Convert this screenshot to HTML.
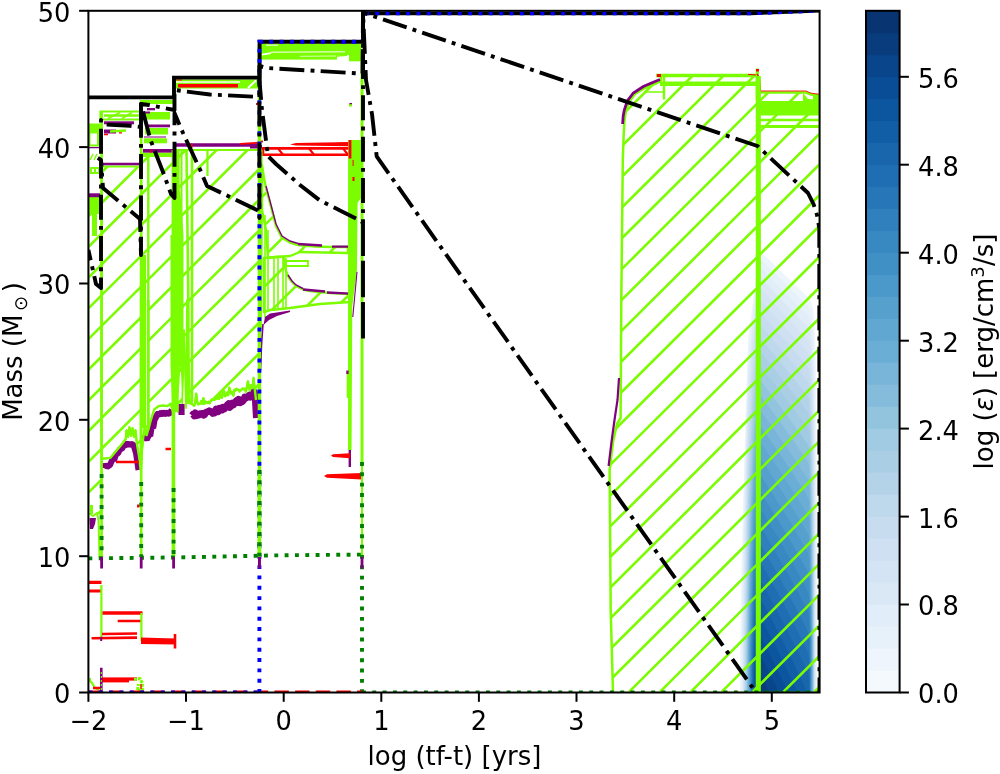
<!DOCTYPE html><html><head><meta charset="utf-8"><title>Kippenhahn diagram</title><style>html,body{margin:0;padding:0;background:#fff}body{width:1000px;height:774px;overflow:hidden}</style></head><body><svg width="1000" height="774" viewBox="0 0 1000 774" style="display:block"><defs><path id="hatch" d="M-698.1 691.6L1.9 -4.9M-667.2 691.6L32.8 -4.9M-636.4 691.6L63.6 -4.9M-605.5 691.6L94.5 -4.9M-574.6 691.6L125.4 -4.9M-543.8 691.6L156.2 -4.9M-512.9 691.6L187.1 -4.9M-482.0 691.6L218.0 -4.9M-451.2 691.6L248.8 -4.9M-420.3 691.6L279.7 -4.9M-389.4 691.6L310.6 -4.9M-358.5 691.6L341.5 -4.9M-327.7 691.6L372.3 -4.9M-296.8 691.6L403.2 -4.9M-265.9 691.6L434.1 -4.9M-235.1 691.6L464.9 -4.9M-204.2 691.6L495.8 -4.9M-173.3 691.6L526.7 -4.9M-142.5 691.6L557.5 -4.9M-111.6 691.6L588.4 -4.9M-80.7 691.6L619.3 -4.9M-49.8 691.6L650.2 -4.9M-19.0 691.6L681.0 -4.9M11.9 691.6L711.9 -4.9M42.8 691.6L742.8 -4.9M73.6 691.6L773.6 -4.9M104.5 691.6L804.5 -4.9M135.4 691.6L835.4 -4.9M166.2 691.6L866.2 -4.9M197.1 691.6L897.1 -4.9M228.0 691.6L928.0 -4.9M258.9 691.6L958.9 -4.9M289.7 691.6L989.7 -4.9M320.6 691.6L1020.6 -4.9M351.5 691.6L1051.5 -4.9M382.3 691.6L1082.3 -4.9M413.2 691.6L1113.2 -4.9M444.1 691.6L1144.1 -4.9M474.9 691.6L1174.9 -4.9M505.8 691.6L1205.8 -4.9M536.7 691.6L1236.7 -4.9M567.6 691.6L1267.6 -4.9M598.4 691.6L1298.4 -4.9M629.3 691.6L1329.3 -4.9M660.2 691.6L1360.2 -4.9M691.0 691.6L1391.0 -4.9M721.9 691.6L1421.9 -4.9M752.8 691.6L1452.8 -4.9M783.6 691.6L1483.7 -4.9M814.5 691.6L1514.5 -4.9M845.4 691.6L1545.4 -4.9" stroke="#7cfc00" stroke-width="2.6" fill="none"/><clipPath id="axclip"><rect x="88.4" y="10.8" width="731.2" height="681.7"/></clipPath><clipPath id="c1"><path d="M757.0 693.0 L613.0 693.0 L610.7 610.0 L609.6 470.5 L613.0 442.0 L617.0 424.0 L620.6 418.0 L621.3 300.0 L622.8 160.0 L623.6 137.0 L624.5 120.0 L626.0 110.0 L629.0 102.0 L635.0 94.0 L645.0 88.0 L657.0 83.0 L661.0 81.0 L661.0 75.5 L757.0 75.5 L757.0 693.0Z"/></clipPath><clipPath id="c2"><path d="M759.0 693.0 L759.0 92.5 L806.0 92.5 L811.0 94.5 L820.0 95.5 L820.0 693.0Z"/></clipPath><clipPath id="c3"><path d="M88.4 197.0 L101.5 197.0 L101.5 514.0 L97.0 513.0 L93.0 516.0 L88.4 513.0Z"/></clipPath><clipPath id="c4"><path d="M101.5 166.5 L141.0 166.5 L140.5 470.0 L139.0 456.5 L137.0 445.0 L135.5 430.0 L134.0 437.0 L132.5 428.0 L131.0 436.0 L129.5 427.0 L128.0 437.0 L126.5 430.0 L125.7 439.0 L122.0 444.0 L117.0 450.0 L110.4 458.0 L101.5 458.7Z"/></clipPath><clipPath id="c5"><path d="M141.0 153.5 L174.0 153.5 L174.0 412.0 L172.0 408.0 L170.7 403.8 L167.4 406.0 L163.0 405.5 L158.7 406.0 L154.3 409.3 L151.0 420.0 L148.8 428.0 L146.5 436.0 L145.0 425.0 L143.5 436.0 L142.0 450.0 L141.0 470.0Z"/></clipPath><clipPath id="c6"><path d="M174.5 150.0 L259.0 150.0 L259.0 400.0 L256.0 400.0 L253.5 378.0 L252.5 388.0 L252.0 385.5 L251.0 385.2 L249.9 390.4 L248.9 387.1 L247.9 381.5 L246.8 387.3 L245.8 391.7 L244.8 388.8 L243.7 389.4 L242.7 388.5 L241.7 389.4 L240.6 390.5 L239.6 391.5 L238.6 389.7 L237.5 389.8 L236.5 388.8 L235.5 390.6 L234.4 389.6 L233.4 395.6 L232.4 391.9 L231.3 393.5 L230.3 390.7 L229.3 387.8 L228.2 395.2 L227.2 392.6 L226.2 395.1 L225.1 396.2 L224.1 391.0 L223.1 392.0 L222.0 397.7 L221.0 397.6 L219.9 392.8 L218.9 398.8 L217.9 395.9 L216.8 398.8 L215.8 397.0 L214.8 399.7 L213.7 399.6 L212.7 400.0 L211.7 399.5 L210.6 401.5 L209.6 403.2 L208.6 401.7 L207.5 403.1 L206.5 402.0 L205.5 401.6 L204.4 403.9 L203.4 398.1 L202.4 403.8 L201.3 401.0 L200.3 403.8 L199.3 403.7 L198.2 404.4 L197.2 401.6 L196.2 393.7 L195.1 403.5 L194.1 405.8 L193.1 404.7 L192.0 404.0 L191.0 400.5 L190.0 404.0 L187.0 300.0 L186.0 408.0 L184.0 330.0 L182.0 410.0 L180.0 405.0 L178.0 412.0 L176.0 405.0 L174.5 412.0Z"/></clipPath><clipPath id="c7"><path d="M262.0 165.0 L264.0 178.0 L266.0 188.0 L270.0 203.0 L276.0 226.0 L282.0 238.0 L290.0 242.5 L298.0 245.0 L315.0 246.5 L330.0 247.0 L348.0 247.0 L348.0 253.0 L300.0 252.0 L290.0 256.0 L276.0 257.0 L268.0 258.0 L266.0 230.0 L262.0 210.0Z"/></clipPath><clipPath id="c8"><path d="M264.0 258.0 L276.0 257.0 L284.0 257.0 L284.0 264.0 L286.0 271.0 L288.0 276.0 L292.0 282.0 L296.0 286.0 L303.0 289.5 L310.0 291.0 L330.0 293.0 L350.0 294.0 L350.0 302.0 L320.0 304.0 L290.0 308.0 L270.0 310.0 L264.0 312.0Z"/></clipPath></defs><rect width="1000" height="774" fill="#fff"/><g clip-path="url(#axclip)">
<path d="M740.0 693.5 L740.0 664.4 L741.0 590.8 L742.0 543.0 L743.0 503.8 L744.0 468.5 L745.0 435.1 L746.0 402.7 L747.0 371.1 L748.0 339.9 L749.0 331.5 L750.0 323.5 L751.0 315.7 L752.0 308.1 L753.0 300.7 L754.0 293.4 L755.0 286.1 L756.0 279.0 L757.0 271.9 L758.0 265.0 L759.0 258.1 L760.0 251.2 L761.0 252.1 L762.0 253.0 L763.0 254.0 L764.0 255.0 L765.0 255.9 L766.0 256.9 L767.0 257.8 L768.0 258.8 L769.0 259.8 L770.0 260.7 L771.0 261.7 L772.0 262.7 L773.0 263.6 L774.0 264.6 L775.0 265.6 L776.0 266.5 L777.0 267.5 L778.0 268.5 L779.0 269.4 L780.0 270.4 L781.0 271.4 L782.0 272.3 L783.0 273.3 L784.0 274.2 L785.0 275.2 L786.0 276.2 L787.0 277.1 L788.0 278.1 L789.0 279.1 L790.0 280.0 L791.0 281.0 L792.0 282.0 L793.0 282.9 L794.0 283.9 L795.0 284.9 L796.0 285.8 L797.0 286.8 L798.0 287.8 L799.0 288.7 L800.0 289.7 L801.0 290.7 L802.0 291.6 L803.0 292.6 L804.0 293.6 L805.0 294.5 L806.0 295.5 L807.0 296.5 L808.0 297.4 L809.0 298.5 L810.0 299.9 L811.0 301.8 L812.0 304.5 L813.0 308.6 L814.0 315.6 L815.0 329.8 L816.0 368.0 L817.0 539.4 L817.0 693.5Z" fill="#eef5fc"/>
<path d="M741.0 693.5 L741.0 666.5 L742.0 592.1 L743.0 539.3 L744.0 496.0 L745.0 457.5 L746.0 421.7 L747.0 387.6 L748.0 354.7 L749.0 344.2 L750.0 334.6 L751.0 325.6 L752.0 317.2 L753.0 309.1 L754.0 301.3 L755.0 293.8 L756.0 286.4 L757.0 279.3 L758.0 272.4 L759.0 265.6 L760.0 258.8 L761.0 259.7 L762.0 260.7 L763.0 261.6 L764.0 262.6 L765.0 263.6 L766.0 264.6 L767.0 265.6 L768.0 266.5 L769.0 267.5 L770.0 268.5 L771.0 269.5 L772.0 270.5 L773.0 271.5 L774.0 272.4 L775.0 273.4 L776.0 274.4 L777.0 275.4 L778.0 276.4 L779.0 277.4 L780.0 278.4 L781.0 279.4 L782.0 280.3 L783.0 281.3 L784.0 282.3 L785.0 283.3 L786.0 284.3 L787.0 285.3 L788.0 286.3 L789.0 287.3 L790.0 288.2 L791.0 289.2 L792.0 290.2 L793.0 291.2 L794.0 292.2 L795.0 293.2 L796.0 294.2 L797.0 295.2 L798.0 296.2 L799.0 297.2 L800.0 298.2 L801.0 299.2 L802.0 300.1 L803.0 301.1 L804.0 302.1 L805.0 303.1 L806.0 304.1 L807.0 305.1 L808.0 306.1 L809.0 307.3 L810.0 309.4 L811.0 312.8 L812.0 318.1 L813.0 326.9 L814.0 342.9 L815.0 376.8 L816.0 470.4 L816.0 693.5Z" fill="#e7f1fa"/>
<path d="M742.0 693.5 L742.0 649.9 L743.0 581.1 L744.0 528.4 L745.0 483.9 L746.0 444.1 L747.0 407.1 L748.0 372.1 L749.0 359.1 L750.0 347.7 L751.0 337.4 L752.0 327.9 L753.0 319.0 L754.0 310.7 L755.0 302.8 L756.0 295.2 L757.0 288.0 L758.0 281.1 L759.0 274.5 L760.0 267.8 L761.0 268.7 L762.0 269.6 L763.0 270.6 L764.0 271.6 L765.0 272.6 L766.0 273.6 L767.0 274.7 L768.0 275.7 L769.0 276.7 L770.0 277.7 L771.0 278.7 L772.0 279.7 L773.0 280.7 L774.0 281.7 L775.0 282.7 L776.0 283.7 L777.0 284.7 L778.0 285.8 L779.0 286.8 L780.0 287.8 L781.0 288.8 L782.0 289.8 L783.0 290.8 L784.0 291.8 L785.0 292.8 L786.0 293.9 L787.0 294.9 L788.0 295.9 L789.0 296.9 L790.0 297.9 L791.0 298.9 L792.0 300.0 L793.0 301.0 L794.0 302.0 L795.0 303.0 L796.0 304.0 L797.0 305.1 L798.0 306.1 L799.0 307.1 L800.0 308.1 L801.0 309.2 L802.0 310.2 L803.0 311.2 L804.0 312.2 L805.0 313.3 L806.0 314.3 L807.0 315.3 L808.0 316.3 L809.0 317.6 L810.0 320.5 L811.0 325.7 L812.0 334.1 L813.0 348.4 L814.0 375.0 L815.0 432.2 L816.0 591.2 L816.0 693.5Z" fill="#e1edf8"/>
<path d="M743.0 693.5 L743.0 627.6 L744.0 564.5 L745.0 513.3 L746.0 469.0 L747.0 428.8 L748.0 391.4 L749.0 375.7 L750.0 362.2 L751.0 350.4 L752.0 339.8 L753.0 330.1 L754.0 321.1 L755.0 312.8 L756.0 304.9 L757.0 297.6 L758.0 290.9 L759.0 284.4 L760.0 277.9 L761.0 278.7 L762.0 279.6 L763.0 280.7 L764.0 281.7 L765.0 282.7 L766.0 283.7 L767.0 284.8 L768.0 285.8 L769.0 286.8 L770.0 287.9 L771.0 288.9 L772.0 289.9 L773.0 291.0 L774.0 292.0 L775.0 293.1 L776.0 294.1 L777.0 295.1 L778.0 296.2 L779.0 297.2 L780.0 298.3 L781.0 299.3 L782.0 300.3 L783.0 301.4 L784.0 302.4 L785.0 303.5 L786.0 304.5 L787.0 305.6 L788.0 306.6 L789.0 307.7 L790.0 308.7 L791.0 309.8 L792.0 310.8 L793.0 311.8 L794.0 312.9 L795.0 314.0 L796.0 315.0 L797.0 316.1 L798.0 317.1 L799.0 318.2 L800.0 319.2 L801.0 320.3 L802.0 321.3 L803.0 322.4 L804.0 323.5 L805.0 324.5 L806.0 325.6 L807.0 326.7 L808.0 327.7 L809.0 329.1 L810.0 333.0 L811.0 340.0 L812.0 351.9 L813.0 372.4 L814.0 410.7 L815.0 493.8 L815.0 693.5Z" fill="#dae8f6"/>
<path d="M743.0 693.5 L743.0 678.0 L744.0 603.6 L745.0 545.2 L746.0 495.9 L747.0 452.3 L748.0 412.4 L749.0 393.6 L750.0 378.0 L751.0 364.5 L752.0 352.7 L753.0 342.1 L754.0 332.4 L755.0 323.6 L756.0 315.5 L757.0 308.1 L758.0 301.4 L759.0 295.1 L760.0 288.7 L761.0 289.6 L762.0 290.4 L763.0 291.5 L764.0 292.6 L765.0 293.6 L766.0 294.7 L767.0 295.7 L768.0 296.8 L769.0 297.9 L770.0 298.9 L771.0 300.0 L772.0 301.1 L773.0 302.1 L774.0 303.2 L775.0 304.3 L776.0 305.3 L777.0 306.4 L778.0 307.5 L779.0 308.5 L780.0 309.6 L781.0 310.7 L782.0 311.7 L783.0 312.8 L784.0 313.9 L785.0 315.0 L786.0 316.1 L787.0 317.1 L788.0 318.2 L789.0 319.3 L790.0 320.4 L791.0 321.5 L792.0 322.5 L793.0 323.6 L794.0 324.7 L795.0 325.8 L796.0 326.9 L797.0 328.0 L798.0 329.1 L799.0 330.2 L800.0 331.3 L801.0 332.3 L802.0 333.4 L803.0 334.5 L804.0 335.6 L805.0 336.7 L806.0 337.8 L807.0 338.9 L808.0 340.0 L809.0 341.6 L810.0 346.4 L811.0 355.6 L812.0 371.2 L813.0 398.4 L814.0 449.4 L815.0 560.6 L815.0 693.5Z" fill="#d4e4f4"/>
<path d="M744.0 693.5 L744.0 645.2 L745.0 579.1 L746.0 524.6 L747.0 477.3 L748.0 434.7 L749.0 412.8 L750.0 394.8 L751.0 379.6 L752.0 366.4 L753.0 354.8 L754.0 344.5 L755.0 335.2 L756.0 326.8 L757.0 319.2 L758.0 312.6 L759.0 306.5 L760.0 300.3 L761.0 301.1 L762.0 302.0 L763.0 303.1 L764.0 304.2 L765.0 305.2 L766.0 306.3 L767.0 307.4 L768.0 308.5 L769.0 309.6 L770.0 310.7 L771.0 311.8 L772.0 312.9 L773.0 314.0 L774.0 315.1 L775.0 316.2 L776.0 317.3 L777.0 318.4 L778.0 319.5 L779.0 320.6 L780.0 321.7 L781.0 322.8 L782.0 323.9 L783.0 325.0 L784.0 326.1 L785.0 327.2 L786.0 328.3 L787.0 329.5 L788.0 330.6 L789.0 331.7 L790.0 332.8 L791.0 333.9 L792.0 335.0 L793.0 336.2 L794.0 337.3 L795.0 338.4 L796.0 339.5 L797.0 340.7 L798.0 341.8 L799.0 342.9 L800.0 344.1 L801.0 345.2 L802.0 346.3 L803.0 347.5 L804.0 348.6 L805.0 349.7 L806.0 350.9 L807.0 352.0 L808.0 353.2 L809.0 354.9 L810.0 360.8 L811.0 372.2 L812.0 391.8 L813.0 426.0 L814.0 490.7 L815.0 631.7 L815.0 693.5Z" fill="#cee0f2"/>
<path d="M744.0 693.5 L744.0 689.1 L745.0 614.9 L746.0 554.9 L747.0 503.7 L748.0 458.2 L749.0 433.0 L750.0 412.5 L751.0 395.5 L752.0 380.9 L753.0 368.3 L754.0 357.2 L755.0 347.3 L756.0 338.6 L757.0 331.0 L758.0 324.4 L759.0 318.5 L760.0 312.5 L761.0 313.3 L762.0 314.1 L763.0 315.3 L764.0 316.4 L765.0 317.5 L766.0 318.6 L767.0 319.7 L768.0 320.9 L769.0 322.0 L770.0 323.1 L771.0 324.2 L772.0 325.4 L773.0 326.5 L774.0 327.6 L775.0 328.8 L776.0 329.9 L777.0 331.0 L778.0 332.2 L779.0 333.3 L780.0 334.4 L781.0 335.6 L782.0 336.7 L783.0 337.9 L784.0 339.0 L785.0 340.2 L786.0 341.3 L787.0 342.5 L788.0 343.6 L789.0 344.8 L790.0 345.9 L791.0 347.1 L792.0 348.2 L793.0 349.4 L794.0 350.6 L795.0 351.7 L796.0 352.9 L797.0 354.1 L798.0 355.2 L799.0 356.4 L800.0 357.6 L801.0 358.7 L802.0 359.9 L803.0 361.1 L804.0 362.3 L805.0 363.5 L806.0 364.6 L807.0 365.8 L808.0 367.0 L809.0 368.9 L810.0 375.9 L811.0 389.7 L812.0 413.5 L813.0 455.2 L814.0 534.2 L814.0 693.5Z" fill="#c8dcf0"/>
<path d="M745.0 693.5 L745.0 652.3 L746.0 586.5 L747.0 531.3 L748.0 482.9 L749.0 454.1 L750.0 431.1 L751.0 412.1 L752.0 396.1 L753.0 382.4 L754.0 370.5 L755.0 360.1 L756.0 351.0 L757.0 343.3 L758.0 336.8 L759.0 331.1 L760.0 325.3 L761.0 326.1 L762.0 326.9 L763.0 328.0 L764.0 329.2 L765.0 330.3 L766.0 331.5 L767.0 332.6 L768.0 333.8 L769.0 334.9 L770.0 336.1 L771.0 337.3 L772.0 338.4 L773.0 339.6 L774.0 340.8 L775.0 341.9 L776.0 343.1 L777.0 344.3 L778.0 345.4 L779.0 346.6 L780.0 347.8 L781.0 349.0 L782.0 350.1 L783.0 351.3 L784.0 352.5 L785.0 353.7 L786.0 354.9 L787.0 356.1 L788.0 357.3 L789.0 358.4 L790.0 359.6 L791.0 360.8 L792.0 362.0 L793.0 363.2 L794.0 364.4 L795.0 365.6 L796.0 366.8 L797.0 368.1 L798.0 369.3 L799.0 370.5 L800.0 371.7 L801.0 372.9 L802.0 374.1 L803.0 375.4 L804.0 376.6 L805.0 377.8 L806.0 379.0 L807.0 380.3 L808.0 381.5 L809.0 383.6 L810.0 391.8 L811.0 408.0 L812.0 436.1 L813.0 485.7 L814.0 579.7 L814.0 693.5Z" fill="#bed8ec"/>
<path d="M745.0 693.5 L745.0 691.2 L746.0 619.5 L747.0 560.0 L748.0 508.5 L749.0 476.1 L750.0 450.4 L751.0 429.4 L752.0 411.9 L753.0 397.0 L754.0 384.3 L755.0 373.3 L756.0 363.9 L757.0 356.1 L758.0 349.7 L759.0 344.1 L760.0 338.6 L761.0 339.4 L762.0 340.1 L763.0 341.3 L764.0 342.5 L765.0 343.7 L766.0 344.8 L767.0 346.0 L768.0 347.2 L769.0 348.4 L770.0 349.6 L771.0 350.8 L772.0 352.0 L773.0 353.2 L774.0 354.4 L775.0 355.6 L776.0 356.8 L777.0 358.0 L778.0 359.2 L779.0 360.4 L780.0 361.7 L781.0 362.9 L782.0 364.1 L783.0 365.3 L784.0 366.5 L785.0 367.8 L786.0 369.0 L787.0 370.2 L788.0 371.4 L789.0 372.7 L790.0 373.9 L791.0 375.1 L792.0 376.4 L793.0 377.6 L794.0 378.9 L795.0 380.1 L796.0 381.4 L797.0 382.6 L798.0 383.9 L799.0 385.1 L800.0 386.4 L801.0 387.7 L802.0 388.9 L803.0 390.2 L804.0 391.5 L805.0 392.7 L806.0 394.0 L807.0 395.3 L808.0 396.6 L809.0 398.9 L810.0 408.2 L811.0 427.0 L812.0 459.7 L813.0 517.4 L814.0 627.0 L814.0 693.5Z" fill="#b4d3e9"/>
<path d="M746.0 693.5 L746.0 653.6 L747.0 589.7 L748.0 535.1 L749.0 498.8 L750.0 470.3 L751.0 447.3 L752.0 428.2 L753.0 412.2 L754.0 398.6 L755.0 387.0 L756.0 377.3 L757.0 369.3 L758.0 363.0 L759.0 357.7 L760.0 352.4 L761.0 353.1 L762.0 353.8 L763.0 355.0 L764.0 356.3 L765.0 357.5 L766.0 358.7 L767.0 359.9 L768.0 361.1 L769.0 362.4 L770.0 363.6 L771.0 364.8 L772.0 366.1 L773.0 367.3 L774.0 368.5 L775.0 369.8 L776.0 371.0 L777.0 372.3 L778.0 373.5 L779.0 374.8 L780.0 376.0 L781.0 377.3 L782.0 378.5 L783.0 379.8 L784.0 381.1 L785.0 382.3 L786.0 383.6 L787.0 384.9 L788.0 386.1 L789.0 387.4 L790.0 388.7 L791.0 390.0 L792.0 391.3 L793.0 392.5 L794.0 393.8 L795.0 395.1 L796.0 396.4 L797.0 397.7 L798.0 399.0 L799.0 400.3 L800.0 401.6 L801.0 402.9 L802.0 404.2 L803.0 405.6 L804.0 406.9 L805.0 408.2 L806.0 409.5 L807.0 410.8 L808.0 412.2 L809.0 414.7 L810.0 425.3 L811.0 446.7 L812.0 484.2 L813.0 550.3 L814.0 676.0 L814.0 693.5Z" fill="#aacfe5"/>
<path d="M746.0 693.5 L746.0 688.8 L747.0 620.4 L748.0 562.4 L749.0 522.3 L750.0 491.0 L751.0 465.7 L752.0 445.1 L753.0 427.8 L754.0 413.4 L755.0 401.2 L756.0 391.1 L757.0 383.0 L758.0 376.8 L759.0 371.7 L760.0 366.6 L761.0 367.3 L762.0 368.0 L763.0 369.2 L764.0 370.5 L765.0 371.7 L766.0 373.0 L767.0 374.3 L768.0 375.5 L769.0 376.8 L770.0 378.0 L771.0 379.3 L772.0 380.6 L773.0 381.9 L774.0 383.1 L775.0 384.4 L776.0 385.7 L777.0 387.0 L778.0 388.3 L779.0 389.6 L780.0 390.9 L781.0 392.2 L782.0 393.5 L783.0 394.8 L784.0 396.1 L785.0 397.4 L786.0 398.7 L787.0 400.0 L788.0 401.3 L789.0 402.6 L790.0 403.9 L791.0 405.3 L792.0 406.6 L793.0 407.9 L794.0 409.3 L795.0 410.6 L796.0 411.9 L797.0 413.3 L798.0 414.6 L799.0 416.0 L800.0 417.3 L801.0 418.7 L802.0 420.1 L803.0 421.4 L804.0 422.8 L805.0 424.2 L806.0 425.5 L807.0 426.9 L808.0 428.3 L809.0 431.0 L810.0 442.9 L811.0 467.0 L812.0 509.4 L813.0 584.2 L813.0 693.5Z" fill="#a0cbe2"/>
<path d="M747.0 693.5 L747.0 652.0 L748.0 590.6 L749.0 546.5 L750.0 512.2 L751.0 484.8 L752.0 462.4 L753.0 443.9 L754.0 428.6 L755.0 415.8 L756.0 405.3 L757.0 397.0 L758.0 391.0 L759.0 386.1 L760.0 381.2 L761.0 381.9 L762.0 382.5 L763.0 383.8 L764.0 385.1 L765.0 386.4 L766.0 387.7 L767.0 389.0 L768.0 390.3 L769.0 391.6 L770.0 392.9 L771.0 394.2 L772.0 395.5 L773.0 396.8 L774.0 398.2 L775.0 399.5 L776.0 400.8 L777.0 402.1 L778.0 403.5 L779.0 404.8 L780.0 406.1 L781.0 407.5 L782.0 408.8 L783.0 410.2 L784.0 411.5 L785.0 412.9 L786.0 414.2 L787.0 415.6 L788.0 416.9 L789.0 418.3 L790.0 419.6 L791.0 421.0 L792.0 422.4 L793.0 423.8 L794.0 425.1 L795.0 426.5 L796.0 427.9 L797.0 429.3 L798.0 430.7 L799.0 432.1 L800.0 433.5 L801.0 434.9 L802.0 436.3 L803.0 437.7 L804.0 439.2 L805.0 440.6 L806.0 442.0 L807.0 443.4 L808.0 444.9 L809.0 447.8 L810.0 461.0 L811.0 488.0 L812.0 535.4 L813.0 619.1 L813.0 693.5Z" fill="#92c4de"/>
<path d="M747.0 693.5 L747.0 684.4 L748.0 619.6 L749.0 571.4 L750.0 534.0 L751.0 504.3 L752.0 480.2 L753.0 460.5 L754.0 444.2 L755.0 430.8 L756.0 419.9 L757.0 411.5 L758.0 405.5 L759.0 400.9 L760.0 396.2 L761.0 396.9 L762.0 397.5 L763.0 398.8 L764.0 400.1 L765.0 401.5 L766.0 402.8 L767.0 404.1 L768.0 405.5 L769.0 406.8 L770.0 408.2 L771.0 409.5 L772.0 410.9 L773.0 412.2 L774.0 413.6 L775.0 415.0 L776.0 416.3 L777.0 417.7 L778.0 419.1 L779.0 420.4 L780.0 421.8 L781.0 423.2 L782.0 424.6 L783.0 426.0 L784.0 427.3 L785.0 428.7 L786.0 430.1 L787.0 431.5 L788.0 432.9 L789.0 434.4 L790.0 435.8 L791.0 437.2 L792.0 438.6 L793.0 440.0 L794.0 441.5 L795.0 442.9 L796.0 444.3 L797.0 445.8 L798.0 447.2 L799.0 448.7 L800.0 450.1 L801.0 451.6 L802.0 453.0 L803.0 454.5 L804.0 456.0 L805.0 457.4 L806.0 458.9 L807.0 460.4 L808.0 461.9 L809.0 465.0 L810.0 479.6 L811.0 509.5 L812.0 562.0 L813.0 655.0 L813.0 693.5Z" fill="#85bcdc"/>
<path d="M748.0 693.5 L748.0 649.3 L749.0 596.8 L750.0 556.3 L751.0 524.3 L752.0 498.5 L753.0 477.4 L754.0 460.2 L755.0 446.1 L756.0 434.9 L757.0 426.3 L758.0 420.4 L759.0 416.0 L760.0 411.6 L761.0 412.2 L762.0 412.8 L763.0 414.2 L764.0 415.5 L765.0 416.9 L766.0 418.3 L767.0 419.7 L768.0 421.0 L769.0 422.4 L770.0 423.8 L771.0 425.2 L772.0 426.6 L773.0 428.0 L774.0 429.4 L775.0 430.8 L776.0 432.2 L777.0 433.6 L778.0 435.0 L779.0 436.4 L780.0 437.9 L781.0 439.3 L782.0 440.7 L783.0 442.2 L784.0 443.6 L785.0 445.0 L786.0 446.5 L787.0 447.9 L788.0 449.4 L789.0 450.8 L790.0 452.3 L791.0 453.8 L792.0 455.2 L793.0 456.7 L794.0 458.2 L795.0 459.7 L796.0 461.1 L797.0 462.6 L798.0 464.1 L799.0 465.6 L800.0 467.1 L801.0 468.6 L802.0 470.1 L803.0 471.7 L804.0 473.2 L805.0 474.7 L806.0 476.2 L807.0 477.8 L808.0 479.3 L809.0 482.7 L810.0 498.7 L811.0 531.5 L812.0 589.3 L813.0 691.7 L813.0 693.5Z" fill="#79b5d9"/>
<path d="M748.0 693.5 L748.0 679.6 L749.0 622.8 L750.0 579.1 L751.0 544.7 L752.0 517.1 L753.0 494.8 L754.0 476.5 L755.0 461.8 L756.0 450.1 L757.0 441.4 L758.0 435.7 L759.0 431.5 L760.0 427.3 L761.0 427.9 L762.0 428.5 L763.0 429.9 L764.0 431.3 L765.0 432.7 L766.0 434.1 L767.0 435.5 L768.0 437.0 L769.0 438.4 L770.0 439.8 L771.0 441.2 L772.0 442.7 L773.0 444.1 L774.0 445.6 L775.0 447.0 L776.0 448.5 L777.0 449.9 L778.0 451.4 L779.0 452.8 L780.0 454.3 L781.0 455.8 L782.0 457.2 L783.0 458.7 L784.0 460.2 L785.0 461.7 L786.0 463.2 L787.0 464.7 L788.0 466.2 L789.0 467.7 L790.0 469.2 L791.0 470.7 L792.0 472.2 L793.0 473.7 L794.0 475.3 L795.0 476.8 L796.0 478.3 L797.0 479.9 L798.0 481.4 L799.0 483.0 L800.0 484.5 L801.0 486.1 L802.0 487.7 L803.0 489.2 L804.0 490.8 L805.0 492.4 L806.0 494.0 L807.0 495.6 L808.0 497.2 L809.0 500.8 L810.0 518.2 L811.0 554.0 L812.0 617.2 L812.0 693.5Z" fill="#6aaed6"/>
<path d="M749.0 693.5 L749.0 649.4 L750.0 602.5 L751.0 565.6 L752.0 536.2 L753.0 512.5 L754.0 493.3 L755.0 477.8 L756.0 465.7 L757.0 456.9 L758.0 451.2 L759.0 447.3 L760.0 443.4 L761.0 444.0 L762.0 444.5 L763.0 445.9 L764.0 447.4 L765.0 448.8 L766.0 450.3 L767.0 451.7 L768.0 453.2 L769.0 454.7 L770.0 456.1 L771.0 457.6 L772.0 459.1 L773.0 460.6 L774.0 462.1 L775.0 463.6 L776.0 465.0 L777.0 466.5 L778.0 468.1 L779.0 469.6 L780.0 471.1 L781.0 472.6 L782.0 474.1 L783.0 475.6 L784.0 477.2 L785.0 478.7 L786.0 480.2 L787.0 481.8 L788.0 483.3 L789.0 484.9 L790.0 486.4 L791.0 488.0 L792.0 489.6 L793.0 491.1 L794.0 492.7 L795.0 494.3 L796.0 495.9 L797.0 497.5 L798.0 499.1 L799.0 500.7 L800.0 502.3 L801.0 503.9 L802.0 505.5 L803.0 507.2 L804.0 508.8 L805.0 510.4 L806.0 512.1 L807.0 513.7 L808.0 515.4 L809.0 519.2 L810.0 538.1 L811.0 577.0 L812.0 645.8 L812.0 693.5Z" fill="#60a7d2"/>
<path d="M749.0 693.5 L749.0 676.5 L750.0 626.2 L751.0 586.9 L752.0 555.7 L753.0 530.5 L754.0 510.3 L755.0 494.2 L756.0 481.7 L757.0 472.6 L758.0 467.1 L759.0 463.5 L760.0 459.8 L761.0 460.3 L762.0 460.8 L763.0 462.3 L764.0 463.8 L765.0 465.3 L766.0 466.8 L767.0 468.3 L768.0 469.8 L769.0 471.3 L770.0 472.8 L771.0 474.3 L772.0 475.8 L773.0 477.4 L774.0 478.9 L775.0 480.4 L776.0 482.0 L777.0 483.5 L778.0 485.1 L779.0 486.6 L780.0 488.2 L781.0 489.7 L782.0 491.3 L783.0 492.9 L784.0 494.5 L785.0 496.0 L786.0 497.6 L787.0 499.2 L788.0 500.8 L789.0 502.4 L790.0 504.0 L791.0 505.6 L792.0 507.3 L793.0 508.9 L794.0 510.5 L795.0 512.2 L796.0 513.8 L797.0 515.4 L798.0 517.1 L799.0 518.8 L800.0 520.4 L801.0 522.1 L802.0 523.8 L803.0 525.5 L804.0 527.1 L805.0 528.8 L806.0 530.5 L807.0 532.3 L808.0 534.0 L809.0 538.0 L810.0 558.4 L811.0 600.5 L812.0 674.9 L812.0 693.5Z" fill="#56a0ce"/>
<path d="M750.0 693.5 L750.0 650.5 L751.0 608.6 L752.0 575.5 L753.0 548.9 L754.0 527.7 L755.0 510.8 L756.0 497.9 L757.0 488.7 L758.0 483.3 L759.0 479.9 L760.0 476.5 L761.0 477.0 L762.0 477.4 L763.0 479.0 L764.0 480.5 L765.0 482.0 L766.0 483.6 L767.0 485.1 L768.0 486.7 L769.0 488.2 L770.0 489.8 L771.0 491.3 L772.0 492.9 L773.0 494.5 L774.0 496.1 L775.0 497.6 L776.0 499.2 L777.0 500.8 L778.0 502.4 L779.0 504.0 L780.0 505.6 L781.0 507.2 L782.0 508.8 L783.0 510.5 L784.0 512.1 L785.0 513.7 L786.0 515.4 L787.0 517.0 L788.0 518.7 L789.0 520.3 L790.0 522.0 L791.0 523.6 L792.0 525.3 L793.0 527.0 L794.0 528.7 L795.0 530.4 L796.0 532.0 L797.0 533.7 L798.0 535.5 L799.0 537.2 L800.0 538.9 L801.0 540.6 L802.0 542.4 L803.0 544.1 L804.0 545.8 L805.0 547.6 L806.0 549.4 L807.0 551.1 L808.0 552.9 L809.0 557.2 L810.0 579.1 L811.0 624.4 L811.0 693.5Z" fill="#4b98ca"/>
<path d="M750.0 693.5 L750.0 675.1 L751.0 630.7 L752.0 595.6 L753.0 567.7 L754.0 545.3 L755.0 527.8 L756.0 514.4 L757.0 505.0 L758.0 499.7 L759.0 496.6 L760.0 493.5 L761.0 493.9 L762.0 494.4 L763.0 495.9 L764.0 497.5 L765.0 499.1 L766.0 500.7 L767.0 502.3 L768.0 503.8 L769.0 505.4 L770.0 507.0 L771.0 508.7 L772.0 510.3 L773.0 511.9 L774.0 513.5 L775.0 515.1 L776.0 516.8 L777.0 518.4 L778.0 520.1 L779.0 521.7 L780.0 523.4 L781.0 525.0 L782.0 526.7 L783.0 528.4 L784.0 530.0 L785.0 531.7 L786.0 533.4 L787.0 535.1 L788.0 536.8 L789.0 538.5 L790.0 540.2 L791.0 541.9 L792.0 543.7 L793.0 545.4 L794.0 547.1 L795.0 548.9 L796.0 550.6 L797.0 552.4 L798.0 554.1 L799.0 555.9 L800.0 557.7 L801.0 559.5 L802.0 561.3 L803.0 563.1 L804.0 564.9 L805.0 566.7 L806.0 568.5 L807.0 570.3 L808.0 572.2 L809.0 576.7 L810.0 600.1 L811.0 648.7 L811.0 693.5Z" fill="#4090c5"/>
<path d="M751.0 693.5 L751.0 653.2 L752.0 616.1 L753.0 586.7 L754.0 563.3 L755.0 545.0 L756.0 531.2 L757.0 521.6 L758.0 516.5 L759.0 513.6 L760.0 510.8 L761.0 511.2 L762.0 511.6 L763.0 513.2 L764.0 514.8 L765.0 516.4 L766.0 518.0 L767.0 519.7 L768.0 521.3 L769.0 523.0 L770.0 524.6 L771.0 526.3 L772.0 527.9 L773.0 529.6 L774.0 531.3 L775.0 532.9 L776.0 534.6 L777.0 536.3 L778.0 538.0 L779.0 539.7 L780.0 541.4 L781.0 543.1 L782.0 544.8 L783.0 546.5 L784.0 548.3 L785.0 550.0 L786.0 551.7 L787.0 553.5 L788.0 555.2 L789.0 557.0 L790.0 558.8 L791.0 560.5 L792.0 562.3 L793.0 564.1 L794.0 565.9 L795.0 567.7 L796.0 569.5 L797.0 571.3 L798.0 573.1 L799.0 575.0 L800.0 576.8 L801.0 578.6 L802.0 580.5 L803.0 582.3 L804.0 584.2 L805.0 586.1 L806.0 588.0 L807.0 589.9 L808.0 591.8 L809.0 596.6 L810.0 621.6 L811.0 673.4 L811.0 693.5Z" fill="#3888c1"/>
<path d="M751.0 693.5 L751.0 676.0 L752.0 637.0 L753.0 606.0 L754.0 581.6 L755.0 562.5 L756.0 548.2 L757.0 538.5 L758.0 533.5 L759.0 530.9 L760.0 528.3 L761.0 528.7 L762.0 529.0 L763.0 530.7 L764.0 532.4 L765.0 534.0 L766.0 535.7 L767.0 537.4 L768.0 539.1 L769.0 540.8 L770.0 542.5 L771.0 544.2 L772.0 545.9 L773.0 547.6 L774.0 549.3 L775.0 551.0 L776.0 552.7 L777.0 554.5 L778.0 556.2 L779.0 558.0 L780.0 559.7 L781.0 561.5 L782.0 563.2 L783.0 565.0 L784.0 566.8 L785.0 568.6 L786.0 570.4 L787.0 572.2 L788.0 574.0 L789.0 575.8 L790.0 577.6 L791.0 579.4 L792.0 581.3 L793.0 583.1 L794.0 585.0 L795.0 586.8 L796.0 588.7 L797.0 590.6 L798.0 592.4 L799.0 594.3 L800.0 596.2 L801.0 598.1 L802.0 600.0 L803.0 601.9 L804.0 603.9 L805.0 605.8 L806.0 607.7 L807.0 609.7 L808.0 611.7 L809.0 616.7 L810.0 643.3 L810.0 693.5Z" fill="#3080bd"/>
<path d="M752.0 693.5 L752.0 658.1 L753.0 625.7 L754.0 600.1 L755.0 580.3 L756.0 565.5 L757.0 555.7 L758.0 550.8 L759.0 548.5 L760.0 546.2 L761.0 546.5 L762.0 546.8 L763.0 548.5 L764.0 550.2 L765.0 551.9 L766.0 553.6 L767.0 555.4 L768.0 557.1 L769.0 558.8 L770.0 560.6 L771.0 562.3 L772.0 564.1 L773.0 565.8 L774.0 567.6 L775.0 569.4 L776.0 571.1 L777.0 572.9 L778.0 574.7 L779.0 576.5 L780.0 578.3 L781.0 580.1 L782.0 582.0 L783.0 583.8 L784.0 585.6 L785.0 587.4 L786.0 589.3 L787.0 591.1 L788.0 593.0 L789.0 594.9 L790.0 596.7 L791.0 598.6 L792.0 600.5 L793.0 602.4 L794.0 604.3 L795.0 606.2 L796.0 608.2 L797.0 610.1 L798.0 612.0 L799.0 614.0 L800.0 615.9 L801.0 617.9 L802.0 619.9 L803.0 621.8 L804.0 623.8 L805.0 625.8 L806.0 627.8 L807.0 629.8 L808.0 631.9 L809.0 637.2 L810.0 665.4 L810.0 693.5Z" fill="#2777b8"/>
<path d="M752.0 693.5 L752.0 679.6 L753.0 645.6 L754.0 618.9 L755.0 598.3 L756.0 583.1 L757.0 573.1 L758.0 568.3 L759.0 566.3 L760.0 564.3 L761.0 564.5 L762.0 564.8 L763.0 566.5 L764.0 568.3 L765.0 570.1 L766.0 571.8 L767.0 573.6 L768.0 575.4 L769.0 577.2 L770.0 578.9 L771.0 580.7 L772.0 582.5 L773.0 584.3 L774.0 586.2 L775.0 588.0 L776.0 589.8 L777.0 591.6 L778.0 593.5 L779.0 595.3 L780.0 597.2 L781.0 599.1 L782.0 600.9 L783.0 602.8 L784.0 604.7 L785.0 606.6 L786.0 608.5 L787.0 610.4 L788.0 612.3 L789.0 614.2 L790.0 616.2 L791.0 618.1 L792.0 620.0 L793.0 622.0 L794.0 624.0 L795.0 625.9 L796.0 627.9 L797.0 629.9 L798.0 631.9 L799.0 633.9 L800.0 635.9 L801.0 637.9 L802.0 640.0 L803.0 642.0 L804.0 644.1 L805.0 646.1 L806.0 648.2 L807.0 650.3 L808.0 652.4 L809.0 657.9 L810.0 687.8 L810.0 693.5Z" fill="#1f6eb3"/>
<path d="M753.0 693.5 L753.0 665.8 L754.0 637.9 L755.0 616.6 L756.0 600.9 L757.0 590.7 L758.0 586.0 L759.0 584.3 L760.0 582.6 L761.0 582.8 L762.0 583.0 L763.0 584.8 L764.0 586.6 L765.0 588.4 L766.0 590.3 L767.0 592.1 L768.0 593.9 L769.0 595.7 L770.0 597.6 L771.0 599.4 L772.0 601.3 L773.0 603.1 L774.0 605.0 L775.0 606.9 L776.0 608.7 L777.0 610.6 L778.0 612.5 L779.0 614.4 L780.0 616.3 L781.0 618.2 L782.0 620.2 L783.0 622.1 L784.0 624.0 L785.0 626.0 L786.0 627.9 L787.0 629.9 L788.0 631.9 L789.0 633.8 L790.0 635.8 L791.0 637.8 L792.0 639.8 L793.0 641.8 L794.0 643.9 L795.0 645.9 L796.0 647.9 L797.0 650.0 L798.0 652.0 L799.0 654.1 L800.0 656.2 L801.0 658.3 L802.0 660.4 L803.0 662.5 L804.0 664.6 L805.0 666.7 L806.0 668.8 L807.0 671.0 L808.0 673.1 L809.0 679.0 L809.0 693.5Z" fill="#1966ad"/>
<path d="M753.0 693.5 L753.0 686.2 L754.0 657.2 L755.0 635.1 L756.0 618.9 L757.0 608.6 L758.0 604.0 L759.0 602.6 L760.0 601.2 L761.0 601.3 L762.0 601.5 L763.0 603.4 L764.0 605.2 L765.0 607.1 L766.0 608.9 L767.0 610.8 L768.0 612.7 L769.0 614.6 L770.0 616.4 L771.0 618.3 L772.0 620.2 L773.0 622.2 L774.0 624.1 L775.0 626.0 L776.0 627.9 L777.0 629.9 L778.0 631.8 L779.0 633.8 L780.0 635.7 L781.0 637.7 L782.0 639.7 L783.0 641.6 L784.0 643.6 L785.0 645.6 L786.0 647.6 L787.0 649.7 L788.0 651.7 L789.0 653.7 L790.0 655.8 L791.0 657.8 L792.0 659.9 L793.0 662.0 L794.0 664.0 L795.0 666.1 L796.0 668.2 L797.0 670.3 L798.0 672.5 L799.0 674.6 L800.0 676.7 L801.0 678.9 L802.0 681.0 L803.0 683.2 L804.0 685.4 L805.0 687.6 L806.0 689.8 L807.0 692.0 L807.0 693.5Z" fill="#125ea6"/>
<path d="M754.0 693.5 L754.0 676.8 L755.0 653.8 L756.0 637.2 L757.0 626.6 L758.0 622.2 L759.0 621.1 L760.0 620.0 L761.0 620.1 L762.0 620.3 L763.0 622.2 L764.0 624.1 L765.0 626.0 L766.0 627.9 L767.0 629.8 L768.0 631.7 L769.0 633.6 L770.0 635.6 L771.0 637.5 L772.0 639.5 L773.0 641.4 L774.0 643.4 L775.0 645.4 L776.0 647.3 L777.0 649.3 L778.0 651.3 L779.0 653.3 L780.0 655.3 L781.0 657.4 L782.0 659.4 L783.0 661.4 L784.0 663.5 L785.0 665.5 L786.0 667.6 L787.0 669.7 L788.0 671.8 L789.0 673.9 L790.0 676.0 L791.0 678.1 L792.0 680.2 L793.0 682.3 L794.0 684.5 L795.0 686.6 L796.0 688.8 L797.0 690.9 L797.0 693.5Z" fill="#0c56a0"/>
<path d="M755.0 693.5 L755.0 672.8 L756.0 655.7 L757.0 645.0 L758.0 640.7 L759.0 639.8 L760.0 639.0 L761.0 639.1 L762.0 639.2 L763.0 641.2 L764.0 643.1 L765.0 645.1 L766.0 647.0 L767.0 649.0 L768.0 650.9 L769.0 652.9 L770.0 654.9 L771.0 656.9 L772.0 658.9 L773.0 660.9 L774.0 662.9 L775.0 665.0 L776.0 667.0 L777.0 669.0 L778.0 671.1 L779.0 673.2 L780.0 675.2 L781.0 677.3 L782.0 679.4 L783.0 681.5 L784.0 683.6 L785.0 685.7 L786.0 687.8 L787.0 690.0 L787.0 693.5Z" fill="#084d96"/>
<path d="M756.0 693.5 L756.0 674.4 L757.0 663.5 L758.0 659.3 L759.0 658.8 L760.0 658.3 L761.0 658.3 L762.0 658.4 L763.0 660.4 L764.0 662.4 L765.0 664.4 L766.0 666.4 L767.0 668.4 L768.0 670.4 L769.0 672.5 L770.0 674.5 L771.0 676.5 L772.0 678.6 L773.0 680.7 L774.0 682.7 L775.0 684.8 L776.0 686.9 L777.0 689.0 L778.0 691.1 L778.0 693.5Z" fill="#08458a"/>
<path d="M757.0 693.5 L757.0 682.2 L758.0 678.2 L759.0 678.0 L760.0 677.7 L761.0 677.8 L762.0 677.8 L763.0 679.8 L764.0 681.9 L765.0 683.9 L766.0 686.0 L767.0 688.0 L768.0 690.1 L768.0 693.5Z" fill="#083c7d"/>
</g>
<g clip-path="url(#axclip)" fill="none" stroke-linecap="butt">
<use href="#hatch" clip-path="url(#c1)"/>
<path d="M757.0 693.0 L613.0 693.0 L610.7 610.0 L609.6 470.5 L613.0 442.0 L617.0 424.0 L620.6 418.0 L621.3 300.0 L622.8 160.0 L623.6 137.0 L624.5 120.0 L626.0 110.0 L629.0 102.0 L635.0 94.0 L645.0 88.0 L657.0 83.0 L661.0 81.0 L661.0 75.5 L757.0 75.5 L757.0 693.0Z" fill="none" stroke="#7cfc00" stroke-width="2.50" stroke-linejoin="round"/>
<path d="M622.6 124.0 L623.2 116.0 L624.3 110.0 L627.3 101.0 L633.3 93.0 L643.3 86.5 L655.0 81.5 L660.0 79.5" fill="none" stroke="#800080" stroke-width="2.80"/>
<path d="M619.0 378.0 L617.5 400.0 L614.5 420.0 L611.5 442.0 L608.6 466.0" fill="none" stroke="#800080" stroke-width="2.20"/>
<path d="M656.0 75.5L757.0 75.5" stroke="#7cfc00" stroke-width="3.60"/>
<path d="M660.0 83.7L757.0 83.7" stroke="#7cfc00" stroke-width="4.60"/>
<path d="M644.0 92.0L664.0 92.0" stroke="#7cfc00" stroke-width="1.60"/>
<path d="M664.0 75.0L664.0 99.5" stroke="#7cfc00" stroke-width="2.40"/>
<rect x="657.0" y="74.0" width="4.0" height="3.0" fill="#ff0000"/>
<path d="M748.0 74.4L757.0 75.0" stroke="#ff0000" stroke-width="1.00"/>
<path d="M757.3 68.5L757.3 100.0" stroke="#7cfc00" stroke-width="3.20"/>
<rect x="756.0" y="69.0" width="3.0" height="2.5" fill="#ff0000"/>
<path d="M757.0 74.0 L759.5 78.0 L760.5 92.0" fill="none" stroke="#ff0000" stroke-width="1.40"/>
<path d="M758.5 76.0L758.5 693.0" stroke="#7cfc00" stroke-width="4.60"/>
<use href="#hatch" clip-path="url(#c2)"/>
<path d="M759.0 693.0 L759.0 92.5 L806.0 92.5 L811.0 94.5 L820.0 95.5 L820.0 693.0Z" fill="none" stroke="#7cfc00" stroke-width="2.60" stroke-linejoin="round"/>
<rect x="760.0" y="101.0" width="60.0" height="14.5" fill="#7cfc00"/>
<path d="M803.0 93.0 L808.0 99.0 L820.0 100.0 L820.0 101.0 L803.0 101.0Z" fill="#7cfc00"/>
<rect x="813.0" y="95.0" width="7.0" height="7.0" fill="#7cfc00"/>
<path d="M760.0 120.0L820.0 120.0" stroke="#7cfc00" stroke-width="2.60"/>
<path d="M760.0 126.5L820.0 126.5" stroke="#7cfc00" stroke-width="3.00"/>
<path d="M761.0 91.0 L806.0 91.0 L811.0 93.2 L820.0 94.3" fill="none" stroke="#ff0000" stroke-width="0.90"/>
<use href="#hatch" clip-path="url(#c3)"/>
<path d="M88.4 197.0 L101.5 197.0 L101.5 514.0 L97.0 513.0 L93.0 516.0 L88.4 513.0Z" fill="none" stroke="#7cfc00" stroke-width="1.80" stroke-linejoin="round"/>
<rect x="88.4" y="197.0" width="11.6" height="17.0" fill="#7cfc00"/>
<rect x="88.4" y="193.3" width="12.1" height="3.9" fill="#800080"/>
<rect x="92.0" y="214.0" width="5.0" height="22.0" fill="#7cfc00"/>
<rect x="89.0" y="123.5" width="11.5" height="10.0" fill="#7cfc00"/>
<path d="M89.5 133.0 L89.5 145.5 L98.0 145.5 L98.0 133.0" fill="none" stroke="#7cfc00" stroke-width="2.00"/>
<path d="M89.0 147.7L100.0 147.7" stroke="#800080" stroke-width="1.20"/>
<path d="M90.0 160.0L93.0 154.0" stroke="#7cfc00" stroke-width="1.60"/>
<path d="M94.0 160.0L97.0 154.0" stroke="#7cfc00" stroke-width="1.60"/>
<rect x="90.0" y="167.0" width="9.0" height="7.0" fill="#7cfc00"/>
<rect x="92.0" y="169.0" width="2.0" height="3.0" fill="#fff"/>
<rect x="96.0" y="169.0" width="2.0" height="3.0" fill="#fff"/>
<path d="M89.5 518.0 L96.0 518.0 L95.0 524.0 L93.0 529.0 L90.0 529.0Z" fill="#800080"/>
<path d="M97.0 513.0 L98.5 520.0 L99.5 557.0" fill="none" stroke="#7cfc00" stroke-width="2.00"/>
<rect x="90.0" y="505.0" width="3.0" height="9.0" fill="#7cfc00"/>
<use href="#hatch" clip-path="url(#c4)"/>
<path d="M101.5 166.5 L141.0 166.5 L140.5 470.0 L139.0 456.5 L137.0 445.0 L135.5 430.0 L134.0 437.0 L132.5 428.0 L131.0 436.0 L129.5 427.0 L128.0 437.0 L126.5 430.0 L125.7 439.0 L122.0 444.0 L117.0 450.0 L110.4 458.0 L101.5 458.7Z" fill="none" stroke="#7cfc00" stroke-width="2.00" stroke-linejoin="round"/>
<path d="M103.5 468.0 L105.0 464.5 L107.0 467.0 L110.0 465.0 L112.6 459.0 L114.0 460.5 L116.0 454.0 L118.0 453.5 L120.0 449.0 L122.0 449.0 L124.0 445.0 L126.0 445.5 L128.0 442.5 L129.5 446.0 L131.0 444.0 L133.4 444.7 L136.0 453.0 L138.5 470.0" fill="none" stroke="#800080" stroke-width="6.00" stroke-linejoin="bevel"/>
<path d="M101.5 458.7 L110.4 458.0 L117.0 450.0 L122.0 444.0 L125.7 439.0 L126.5 430.0 L128.0 437.0 L129.5 427.0 L131.0 436.0 L132.5 428.0 L134.0 437.0 L135.5 430.0 L137.0 445.0 L139.0 456.5 L140.5 470.0" fill="none" stroke="#7cfc00" stroke-width="2.20"/>
<path d="M116.0 462.0L139.0 462.0" stroke="#ff0000" stroke-width="2.60"/>
<rect x="137.0" y="504.5" width="2.5" height="3.0" fill="#ff0000"/>
<path d="M103.0 164.0L142.0 164.0" stroke="#800080" stroke-width="2.60"/>
<path d="M100.5 111.5 L140.0 111.5 L140.0 119.5 L100.5 119.5Z" fill="none" stroke="#7cfc00" stroke-width="2.20"/>
<path d="M104.0 115.5L140.0 115.5" stroke="#7cfc00" stroke-width="2.40"/>
<path d="M108.0 118.5L120.0 112.5" stroke="#7cfc00" stroke-width="1.60"/>
<path d="M122.0 118.5L132.0 112.5" stroke="#7cfc00" stroke-width="1.60"/>
<rect x="104.0" y="121.3" width="30.0" height="3.0" fill="#800080"/>
<rect x="104.0" y="129.5" width="12.0" height="4.0" fill="#800080"/>
<path d="M110.0 131.5L126.0 130.5" stroke="#7cfc00" stroke-width="2.40"/>
<path d="M104.0 134.5L108.0 134.5" stroke="#ff0000" stroke-width="1.40"/>
<path d="M119.0 132.8L122.0 132.8" stroke="#ff0000" stroke-width="1.20"/>
<use href="#hatch" clip-path="url(#c5)"/>
<path d="M141.0 153.5 L174.0 153.5 L174.0 412.0 L172.0 408.0 L170.7 403.8 L167.4 406.0 L163.0 405.5 L158.7 406.0 L154.3 409.3 L151.0 420.0 L148.8 428.0 L146.5 436.0 L145.0 425.0 L143.5 436.0 L142.0 450.0 L141.0 470.0Z" fill="none" stroke="#7cfc00" stroke-width="2.00" stroke-linejoin="round"/>
<path d="M143.3 440.3 L145.0 437.0 L146.5 439.5 L148.8 435.0 L150.0 436.0 L151.5 427.0 L153.0 428.0 L154.3 420.0 L156.5 416.0 L158.7 413.0 L160.5 415.5 L162.0 411.5 L164.0 414.5 L166.0 413.0 L169.6 413.5 L172.0 410.0" fill="none" stroke="#800080" stroke-width="6.50" stroke-linejoin="bevel"/>
<path d="M141.0 470.0 L142.0 450.0 L143.5 436.0 L145.0 425.0 L146.5 436.0 L148.8 428.0 L151.0 420.0 L154.3 409.3 L158.7 406.0 L163.0 405.5 L167.4 406.0 L170.7 403.8 L172.0 408.0 L173.0 412.0" fill="none" stroke="#7cfc00" stroke-width="2.20"/>
<path d="M165.5 449.0L171.0 449.0" stroke="#ff0000" stroke-width="2.40"/>
<rect x="141.0" y="100.0" width="33.0" height="4.0" fill="#7cfc00"/>
<rect x="147.0" y="108.0" width="8.0" height="2.3" fill="#800080"/>
<rect x="143.0" y="112.0" width="27.0" height="7.5" fill="#7cfc00"/>
<rect x="143.0" y="111.5" width="7.0" height="2.0" fill="#800080"/>
<rect x="146.0" y="124.5" width="24.0" height="2.8" fill="#800080"/>
<rect x="145.0" y="128.0" width="23.0" height="6.5" fill="#7cfc00"/>
<path d="M144.0 137.0L166.0 137.0" stroke="#800080" stroke-width="1.00"/>
<rect x="144.0" y="138.3" width="23.0" height="5.0" fill="#7cfc00"/>
<rect x="143.0" y="149.0" width="30.5" height="3.6" fill="#800080"/>
<path d="M150.5 149.5L151.0 155.0" stroke="#ff0000" stroke-width="1.20"/>
<rect x="142.0" y="153.0" width="32.0" height="4.0" fill="#7cfc00"/>
<rect x="141.2" y="255.0" width="4.8" height="45.0" fill="#7cfc00"/>
<rect x="140.0" y="300.0" width="9.5" height="128.0" fill="#7cfc00"/>
<path d="M146.5 300.0L146.5 425.0" stroke="#fff" stroke-width="0.80"/>
<path d="M143.3 300.0L143.3 420.0" stroke="#7cfc00" stroke-width="2.40"/>
<path d="M148.3 157.0L148.3 430.0" stroke="#7cfc00" stroke-width="2.40"/>
<use href="#hatch" clip-path="url(#c6)"/>
<path d="M174.5 150.0 L259.0 150.0 L259.0 400.0 L256.0 400.0 L253.5 378.0 L252.5 388.0 L252.0 385.5 L251.0 385.2 L249.9 390.4 L248.9 387.1 L247.9 381.5 L246.8 387.3 L245.8 391.7 L244.8 388.8 L243.7 389.4 L242.7 388.5 L241.7 389.4 L240.6 390.5 L239.6 391.5 L238.6 389.7 L237.5 389.8 L236.5 388.8 L235.5 390.6 L234.4 389.6 L233.4 395.6 L232.4 391.9 L231.3 393.5 L230.3 390.7 L229.3 387.8 L228.2 395.2 L227.2 392.6 L226.2 395.1 L225.1 396.2 L224.1 391.0 L223.1 392.0 L222.0 397.7 L221.0 397.6 L219.9 392.8 L218.9 398.8 L217.9 395.9 L216.8 398.8 L215.8 397.0 L214.8 399.7 L213.7 399.6 L212.7 400.0 L211.7 399.5 L210.6 401.5 L209.6 403.2 L208.6 401.7 L207.5 403.1 L206.5 402.0 L205.5 401.6 L204.4 403.9 L203.4 398.1 L202.4 403.8 L201.3 401.0 L200.3 403.8 L199.3 403.7 L198.2 404.4 L197.2 401.6 L196.2 393.7 L195.1 403.5 L194.1 405.8 L193.1 404.7 L192.0 404.0 L191.0 400.5 L190.0 404.0 L187.0 300.0 L186.0 408.0 L184.0 330.0 L182.0 410.0 L180.0 405.0 L178.0 412.0 L176.0 405.0 L174.5 412.0Z" fill="none" stroke="#7cfc00" stroke-width="1.80" stroke-linejoin="round"/>
<path d="M192.0 415.6 L193.1 414.3 L194.3 415.8 L195.4 412.9 L196.6 415.5 L197.7 414.4 L198.9 415.0 L200.0 413.7 L201.2 413.7 L202.3 413.5 L203.5 415.1 L204.6 414.7 L205.7 412.6 L206.9 412.1 L208.0 411.6 L209.2 410.9 L210.3 411.5 L211.5 411.7 L212.6 413.2 L213.8 412.0 L214.9 412.7 L216.1 409.0 L217.2 410.4 L218.3 411.5 L219.5 408.3 L220.6 409.9 L221.8 410.1 L222.9 407.3 L224.1 409.1 L225.2 406.9 L226.4 406.4 L227.5 404.8 L228.7 403.6 L229.8 407.5 L230.9 404.6 L232.1 403.1 L233.2 405.0 L234.4 403.5 L235.5 402.0 L236.7 400.5 L237.8 402.3 L239.0 399.4 L240.1 402.7 L241.3 402.1 L242.4 401.6 L243.5 400.3 L244.7 397.2 L245.8 398.2 L247.0 397.1 L248.1 396.2 L249.3 395.3 L250.4 397.0 L251.6 394.6 L252.7 395.7 L253.9 391.7 L255.0 393.3 L256.5 418.0" fill="none" stroke="#800080" stroke-width="7.00" stroke-linejoin="round"/>
<rect x="178.5" y="404.0" width="6.1" height="11.0" fill="#800080"/>
<path d="M191.0 400.5 L192.0 404.0 L193.1 404.7 L194.1 405.8 L195.1 403.5 L196.2 393.7 L197.2 401.6 L198.2 404.4 L199.3 403.7 L200.3 403.8 L201.3 401.0 L202.4 403.8 L203.4 398.1 L204.4 403.9 L205.5 401.6 L206.5 402.0 L207.5 403.1 L208.6 401.7 L209.6 403.2 L210.6 401.5 L211.7 399.5 L212.7 400.0 L213.7 399.6 L214.8 399.7 L215.8 397.0 L216.8 398.8 L217.9 395.9 L218.9 398.8 L219.9 392.8 L221.0 397.6 L222.0 397.7 L223.1 392.0 L224.1 391.0 L225.1 396.2 L226.2 395.1 L227.2 392.6 L228.2 395.2 L229.3 387.8 L230.3 390.7 L231.3 393.5 L232.4 391.9 L233.4 395.6 L234.4 389.6 L235.5 390.6 L236.5 388.8 L237.5 389.8 L238.6 389.7 L239.6 391.5 L240.6 390.5 L241.7 389.4 L242.7 388.5 L243.7 389.4 L244.8 388.8 L245.8 391.7 L246.8 387.3 L247.9 381.5 L248.9 387.1 L249.9 390.4 L251.0 385.2 L252.0 385.5 L252.5 388.0 L253.5 378.0 L256.0 400.0" fill="none" stroke="#7cfc00" stroke-width="2.40" stroke-linejoin="round"/>
<path d="M176.0 145.0L259.0 145.0" stroke="#800080" stroke-width="3.40"/>
<path d="M240.0 143.8 L259.0 142.6" fill="none" stroke="#ff0000" stroke-width="1.80"/>
<rect x="191.0" y="143.5" width="1.5" height="4.5" fill="#ff0000"/>
<path d="M174.5 150.0L259.0 150.0" stroke="#7cfc00" stroke-width="2.20"/>
<path d="M176.5 150.0L176.5 412.0" stroke="#7cfc00" stroke-width="4.20"/>
<path d="M178.5 150.0L178.5 300.0" stroke="#7cfc00" stroke-width="2.20"/>
<path d="M181.5 150.0L181.5 300.0" stroke="#7cfc00" stroke-width="2.00"/>
<path d="M192.0 150.0L192.0 402.0" stroke="#7cfc00" stroke-width="2.60"/>
<path d="M207.5 150.0L207.5 176.0" stroke="#7cfc00" stroke-width="2.20"/>
<path d="M186.5 150.0 L188.3 300.0 L188.3 404.0" fill="none" stroke="#7cfc00" stroke-width="2.60"/>
<rect x="170.5" y="235.0" width="13.0" height="131.0" fill="#7cfc00"/>
<path d="M170.5 366.0 L172.5 412.0 L175.5 366.0 L178.0 403.0 L180.5 366.0 L182.5 398.0 L184.5 366.0Z" fill="#7cfc00"/>
<path d="M174.5 235.0 L174.5 200.0 L178.0 180.0 L181.0 200.0 L183.5 235.0Z" fill="#7cfc00"/>
<rect x="174.5" y="79.5" width="83.5" height="9.0" fill="#7cfc00"/>
<path d="M176.0 82.0L240.0 82.0" stroke="#fff" stroke-width="1.60"/>
<rect x="178.0" y="84.0" width="60.0" height="3.5" fill="#ff0000"/>
<path d="M248.0 88.0 L256.0 80.5" fill="none" stroke="#fff" stroke-width="2.00"/>
<path d="M176.0 80.0L182.0 80.0" stroke="#ff0000" stroke-width="1.00"/>
<rect x="256.0" y="103.0" width="3.0" height="2.0" fill="#ff0000"/>
<rect x="260.0" y="43.5" width="89.5" height="11.5" fill="#7cfc00"/>
<rect x="260.0" y="55.0" width="77.0" height="4.6" fill="#7cfc00"/>
<path d="M337.0 56.0L347.0 55.2" stroke="#7cfc00" stroke-width="1.40"/>
<path d="M266.0 45.2L278.0 45.2" stroke="#fff" stroke-width="1.00"/>
<path d="M271.0 52.2L345.0 51.8" stroke="#fff" stroke-width="1.00"/>
<path d="M262.0 54.6L271.0 53.2" stroke="#fff" stroke-width="1.80"/>
<path d="M300.0 56.3L336.0 56.0" stroke="#fff" stroke-width="0.70"/>
<rect x="349.0" y="43.5" width="12.5" height="17.8" fill="#7cfc00"/>
<path d="M290.0 144.4 L296.0 143.0 L350.0 142.0 L350.0 146.2 L296.0 145.6Z" fill="#ff0000"/>
<path d="M263.0 148.4 L350.0 148.4 L350.0 154.7 L263.0 154.7Z" fill="none" stroke="#ff0000" stroke-width="2.60"/>
<path d="M278.0 148.4L283.0 154.7" stroke="#ff0000" stroke-width="2.20"/>
<path d="M309.0 148.4L314.0 154.7" stroke="#ff0000" stroke-width="2.20"/>
<path d="M343.0 148.4L348.0 154.7" stroke="#ff0000" stroke-width="2.20"/>
<path d="M259.0 141.5L263.0 141.5" stroke="#ff0000" stroke-width="2.00"/>
<rect x="250.0" y="145.0" width="12.0" height="3.5" fill="#800080"/>
<rect x="349.0" y="103.5" width="3.0" height="3.0" fill="#7cfc00"/>
<rect x="349.5" y="103.0" width="2.5" height="1.2" fill="#800080"/>
<use href="#hatch" clip-path="url(#c7)"/>
<path d="M262.0 165.0 L264.0 178.0 L266.0 188.0 L270.0 203.0 L276.0 226.0 L282.0 238.0 L290.0 242.5 L298.0 245.0 L315.0 246.5 L330.0 247.0 L348.0 247.0 L348.0 253.0 L300.0 252.0 L290.0 256.0 L276.0 257.0 L268.0 258.0 L266.0 230.0 L262.0 210.0Z" fill="none" stroke="#7cfc00" stroke-width="2.40" stroke-linejoin="round"/>
<path d="M266.0 186.0 L270.0 201.0 L276.0 224.0 L282.0 236.0 L290.0 241.0 L298.0 243.5" fill="none" stroke="#800080" stroke-width="1.40"/>
<path d="M298.0 244.0L322.0 245.5" stroke="#800080" stroke-width="2.40"/>
<path d="M332.0 246.6L348.0 246.6" stroke="#800080" stroke-width="2.40"/>
<use href="#hatch" clip-path="url(#c8)"/>
<path d="M264.0 258.0 L276.0 257.0 L284.0 257.0 L284.0 264.0 L286.0 271.0 L288.0 276.0 L292.0 282.0 L296.0 286.0 L303.0 289.5 L310.0 291.0 L330.0 293.0 L350.0 294.0 L350.0 302.0 L320.0 304.0 L290.0 308.0 L270.0 310.0 L264.0 312.0Z" fill="none" stroke="#7cfc00" stroke-width="2.40" stroke-linejoin="round"/>
<path d="M288.0 275.0 L292.0 281.0 L296.0 285.0 L303.0 288.5" fill="none" stroke="#800080" stroke-width="1.40"/>
<path d="M303.0 289.5L325.0 291.5" stroke="#800080" stroke-width="2.40"/>
<path d="M327.0 292.5L350.0 293.6" stroke="#800080" stroke-width="2.40"/>
<path d="M286.0 261.0 L308.0 261.0 L308.0 266.0 L286.0 266.0Z" fill="none" stroke="#7cfc00" stroke-width="1.80"/>
<path d="M265.0 215.0L265.0 318.0" stroke="#7cfc00" stroke-width="1.60"/>
<path d="M268.0 230.0L268.0 312.0" stroke="#7cfc00" stroke-width="1.60"/>
<path d="M274.0 256.0L274.0 311.0" stroke="#7cfc00" stroke-width="1.60"/>
<path d="M278.0 256.0L278.0 310.0" stroke="#7cfc00" stroke-width="1.60"/>
<path d="M283.0 257.0L283.0 309.0" stroke="#7cfc00" stroke-width="1.60"/>
<path d="M286.0 258.0L286.0 308.0" stroke="#7cfc00" stroke-width="1.60"/>
<path d="M263.5 325.0 L265.0 317.0 L270.0 313.5 L290.0 310.5 L290.0 312.0 L277.0 316.0 L269.0 320.0Z" fill="#800080"/>
<path d="M263.0 324.0 L261.5 345.0 L260.5 370.0" fill="none" stroke="#800080" stroke-width="1.60"/>
<path d="M260.0 150.0 L262.5 150.0 L263.0 200.0 L262.0 330.0 L260.0 330.0Z" fill="#7cfc00"/>
<path d="M348.3 140.0 L361.0 140.0 L361.0 198.0 L357.6 203.0 L357.0 270.0 L352.3 306.0 L351.5 450.0 L348.3 450.0Z" fill="#7cfc00"/>
<path d="M357.0 272.0 L352.8 317.0" fill="none" stroke="#800080" stroke-width="1.10"/>
<rect x="352.6" y="160.0" width="1.0" height="6.0" fill="#ff0000"/>
<path d="M349.6 140.0L349.6 450.0" stroke="#7cfc00" stroke-width="3.00"/>
<path d="M350.0 140.0L350.0 158.5" stroke="#ff0000" stroke-width="2.80"/>
<path d="M349.8 450.0L349.8 467.0" stroke="#800080" stroke-width="2.40"/>
<path d="M362.0 60.0L362.0 462.0" stroke="#7cfc00" stroke-width="3.00"/>
<path d="M347.5 372.0L347.5 398.0" stroke="#7cfc00" stroke-width="1.60"/>
<rect x="346.3" y="370.5" width="2.3" height="3.5" fill="#800080"/>
<rect x="352.5" y="177.0" width="2.0" height="4.0" fill="#ff0000"/>
<path d="M331.0 455.6 L333.0 454.2 L350.0 453.2 L350.0 458.2 L333.0 457.0Z" fill="#ff0000"/>
<path d="M324.0 476.0 L327.0 474.2 L362.0 473.0 L362.0 479.5 L327.0 477.8Z" fill="#ff0000"/>
<path d="M101.6 111.0L101.6 557.0" stroke="#7cfc00" stroke-width="2.60"/>
<path d="M141.2 100.0L141.2 557.0" stroke="#7cfc00" stroke-width="2.60"/>
<path d="M173.4 150.0L173.4 557.0" stroke="#7cfc00" stroke-width="3.60"/>
<path d="M259.4 44.0L259.4 557.0" stroke="#7cfc00" stroke-width="3.40"/>
<path d="M362.0 462.0L362.0 557.0" stroke="#7cfc00" stroke-width="2.00"/>
<path d="M88.4 582.3L101.5 582.3" stroke="#ff0000" stroke-width="3.20"/>
<path d="M88.4 591.0L101.5 591.0" stroke="#ff0000" stroke-width="3.00"/>
<path d="M101.4 585.0L101.4 638.6" stroke="#7cfc00" stroke-width="2.20"/>
<path d="M102.5 613.0L142.5 613.0" stroke="#ff0000" stroke-width="3.60"/>
<path d="M117.7 621.0L142.0 621.0" stroke="#ff0000" stroke-width="2.60"/>
<path d="M141.4 613.0L141.4 641.0" stroke="#7cfc00" stroke-width="2.20"/>
<path d="M102.0 634.0L137.0 633.5" stroke="#ff0000" stroke-width="2.40"/>
<path d="M91.6 638.3L137.0 637.6" stroke="#ff0000" stroke-width="2.60"/>
<path d="M141.0 637.5 L175.0 638.5 L175.0 644.5 L141.0 644.0Z" fill="#ff0000"/>
<path d="M175.0 634.0L175.0 648.4" stroke="#ff0000" stroke-width="2.60"/>
<path d="M101.2 637.0L101.2 641.0" stroke="#800080" stroke-width="2.00"/>
<rect x="101.0" y="677.4" width="28.0" height="5.0" fill="#ff0000"/>
<rect x="129.0" y="677.4" width="8.0" height="3.2" fill="#ff0000"/>
<path d="M134.0 679.5 L140.0 678.5 L142.3 683.0 L142.3 690.0 L137.5 691.0 L138.5 684.0" fill="none" stroke="#7cfc00" stroke-width="3.20" stroke-linejoin="round" stroke-dasharray="3 1"/>
<path d="M141.0 684.0L141.0 689.0" stroke="#ff0000" stroke-width="1.40"/>
<path d="M101.3 667.7L101.3 693.0" stroke="#800080" stroke-width="2.60"/>
<path d="M101.3 672.0L101.3 690.0" stroke="#7cfc00" stroke-width="1.20" stroke-dasharray="2 2"/>
<path d="M89.0 680.0 L92.0 683.0 L95.0 688.0 L99.0 690.0" fill="none" stroke="#7cfc00" stroke-width="2.20"/>
<path d="M93.0 688.0L100.0 688.0" stroke="#ff0000" stroke-width="2.60"/>
<rect x="89.0" y="678.0" width="2.0" height="3.0" fill="#7cfc00"/>
<path d="M88.4 558.4 L180.0 557.4 L280.0 555.3 L362.0 554.6" fill="none" stroke="#008000" stroke-width="3.90" stroke-dasharray="3.90 6.43"/>
<path d="M101.6 474.0L101.6 557.0" stroke="#008000" stroke-width="3.90" stroke-dasharray="3.90 6.43"/>
<path d="M101.6 557.0L101.6 568.5" stroke="#800080" stroke-width="2.80"/>
<path d="M141.2 482.0L141.2 557.0" stroke="#008000" stroke-width="3.90" stroke-dasharray="3.90 6.43"/>
<path d="M141.2 557.0L141.2 568.5" stroke="#800080" stroke-width="2.80"/>
<path d="M173.6 488.0L173.6 557.0" stroke="#008000" stroke-width="3.90" stroke-dasharray="3.90 6.43"/>
<path d="M173.6 557.0L173.6 568.5" stroke="#800080" stroke-width="2.80"/>
<path d="M259.4 470.0L259.4 557.0" stroke="#008000" stroke-width="3.90" stroke-dasharray="3.90 6.43"/>
<path d="M259.4 557.0L259.4 568.5" stroke="#800080" stroke-width="2.80"/>
<path d="M362.0 462.0L362.0 693.0" stroke="#008000" stroke-width="3.90" stroke-dasharray="3.90 6.43"/>
<path d="M362.0 557.0L362.0 568.5" stroke="#800080" stroke-width="2.80"/>
<path d="M88.4 692.5L363.0 692.5" stroke="#ff0000" stroke-width="3.90" stroke-dasharray="14.43 6.24"/>
<path d="M88.4 692.5L259.4 692.5" stroke="#0000ff" stroke-width="3.90" stroke-dasharray="3.90 6.43"/>
<path d="M362.0 692.5L820.0 692.5" stroke="#008000" stroke-width="3.90" stroke-dasharray="3.90 6.43"/>
<path d="M88.4 97.4 L174.0 97.4 L174.0 77.6 L259.6 77.6 L259.6 41.8 L363.0 41.8 L363.0 13.4 L750.0 13.4 L820.0 10.6" fill="none" stroke="#000" stroke-width="3.90" stroke-linejoin="miter"/>
<path d="M259.4 693.0 L259.4 41.8 L363.0 41.8 L363.0 13.4 L750.0 13.4 L820.0 10.6" fill="none" stroke="#0000ff" stroke-width="3.90" stroke-dasharray="3.90 6.43"/>
<path d="M259.4 470.0L259.4 557.0" stroke="#7cfc00" stroke-width="3.40"/>
<path d="M259.4 470.0L259.4 557.0" stroke="#008000" stroke-width="3.90" stroke-dasharray="3.90 6.43"/>
<path d="M259.4 557.0L259.4 568.5" stroke="#800080" stroke-width="2.80"/>
<path d="M95.5 156.5 L101.0 160.0 L101.0 120.0 L105.0 124.5 L130.0 125.8 L141.0 127.0 L141.0 104.0 L149.0 105.0 L174.5 110.0 L174.5 90.0 L210.0 94.5 L259.4 97.0 L259.4 66.0 L267.0 68.0 L362.5 73.6 L363.0 12.6 L757.5 146.0 L808.0 193.0 L813.5 204.0 L817.0 215.0 L819.3 228.0 L819.5 693.0" fill="none" stroke="#000" stroke-width="3.90" stroke-dasharray="24.96 6.24 3.90 6.24" stroke-linejoin="round" stroke-dashoffset="28.5"/>
<path d="M88.4 250.0 L96.0 284.0 L101.0 288.0 L101.0 160.0 L103.0 188.0 L140.0 219.0 L141.0 255.0 L141.0 104.0 L150.5 140.0 L163.0 172.0 L171.0 194.0 L174.5 198.0 L174.5 113.0 L183.0 133.0 L200.0 169.5 L207.0 186.0 L228.0 196.0 L258.0 210.5 L259.4 218.0 L259.4 80.0 L262.0 110.0 L268.0 156.0 L276.0 164.0 L300.0 185.0 L320.0 200.5 L340.0 210.5 L362.0 221.5 L363.0 224.0 L363.0 341.0 L363.0 12.6 L366.0 80.0 L372.0 114.0 L376.7 156.4 L756.0 692.5" fill="none" stroke="#000" stroke-width="3.90" stroke-dasharray="24.96 6.24 3.90 6.24" stroke-linejoin="round" stroke-dashoffset="14.5"/>
</g>
<rect x="88.4" y="10.8" width="731.2" height="681.7" fill="none" stroke="#000" stroke-width="2"/>
<path d="M88.4 692.5L88.4 701.8" stroke="#000" stroke-width="2.00"/>
<path d="M186.0 692.5L186.0 701.8" stroke="#000" stroke-width="2.00"/>
<path d="M283.7 692.5L283.7 701.8" stroke="#000" stroke-width="2.00"/>
<path d="M381.3 692.5L381.3 701.8" stroke="#000" stroke-width="2.00"/>
<path d="M478.9 692.5L478.9 701.8" stroke="#000" stroke-width="2.00"/>
<path d="M576.5 692.5L576.5 701.8" stroke="#000" stroke-width="2.00"/>
<path d="M674.2 692.5L674.2 701.8" stroke="#000" stroke-width="2.00"/>
<path d="M771.8 692.5L771.8 701.8" stroke="#000" stroke-width="2.00"/>
<path d="M79.1 692.5L88.4 692.5" stroke="#000" stroke-width="2.00"/>
<path d="M79.1 556.2L88.4 556.2" stroke="#000" stroke-width="2.00"/>
<path d="M79.1 419.8L88.4 419.8" stroke="#000" stroke-width="2.00"/>
<path d="M79.1 283.5L88.4 283.5" stroke="#000" stroke-width="2.00"/>
<path d="M79.1 147.1L88.4 147.1" stroke="#000" stroke-width="2.00"/>
<path d="M79.1 10.8L88.4 10.8" stroke="#000" stroke-width="2.00"/>
<rect x="866.0" y="670.21" width="33.6" height="22.59" fill="#f4f9fe"/>
<rect x="866.0" y="648.22" width="33.6" height="22.59" fill="#eef5fc"/>
<rect x="866.0" y="626.23" width="33.6" height="22.59" fill="#e7f1fa"/>
<rect x="866.0" y="604.24" width="33.6" height="22.59" fill="#e1edf8"/>
<rect x="866.0" y="582.25" width="33.6" height="22.59" fill="#dae8f6"/>
<rect x="866.0" y="560.26" width="33.6" height="22.59" fill="#d4e4f4"/>
<rect x="866.0" y="538.27" width="33.6" height="22.59" fill="#cee0f2"/>
<rect x="866.0" y="516.28" width="33.6" height="22.59" fill="#c8dcf0"/>
<rect x="866.0" y="494.29" width="33.6" height="22.59" fill="#bed8ec"/>
<rect x="866.0" y="472.30" width="33.6" height="22.59" fill="#b4d3e9"/>
<rect x="866.0" y="450.31" width="33.6" height="22.59" fill="#aacfe5"/>
<rect x="866.0" y="428.32" width="33.6" height="22.59" fill="#a0cbe2"/>
<rect x="866.0" y="406.33" width="33.6" height="22.59" fill="#92c4de"/>
<rect x="866.0" y="384.34" width="33.6" height="22.59" fill="#85bcdc"/>
<rect x="866.0" y="362.35" width="33.6" height="22.59" fill="#79b5d9"/>
<rect x="866.0" y="340.35" width="33.6" height="22.59" fill="#6aaed6"/>
<rect x="866.0" y="318.36" width="33.6" height="22.59" fill="#60a7d2"/>
<rect x="866.0" y="296.37" width="33.6" height="22.59" fill="#56a0ce"/>
<rect x="866.0" y="274.38" width="33.6" height="22.59" fill="#4b98ca"/>
<rect x="866.0" y="252.39" width="33.6" height="22.59" fill="#4090c5"/>
<rect x="866.0" y="230.40" width="33.6" height="22.59" fill="#3888c1"/>
<rect x="866.0" y="208.41" width="33.6" height="22.59" fill="#3080bd"/>
<rect x="866.0" y="186.42" width="33.6" height="22.59" fill="#2777b8"/>
<rect x="866.0" y="164.43" width="33.6" height="22.59" fill="#1f6eb3"/>
<rect x="866.0" y="142.44" width="33.6" height="22.59" fill="#1966ad"/>
<rect x="866.0" y="120.45" width="33.6" height="22.59" fill="#125ea6"/>
<rect x="866.0" y="98.46" width="33.6" height="22.59" fill="#0c56a0"/>
<rect x="866.0" y="76.47" width="33.6" height="22.59" fill="#084d96"/>
<rect x="866.0" y="54.48" width="33.6" height="22.59" fill="#08458a"/>
<rect x="866.0" y="32.49" width="33.6" height="22.59" fill="#083c7d"/>
<rect x="866.0" y="10.50" width="33.6" height="22.59" fill="#083471"/>
<rect x="866.0" y="10.8" width="33.6" height="681.7" fill="none" stroke="#000" stroke-width="2"/>
<path d="M899.6 692.5L908.9 692.5" stroke="#000" stroke-width="2.00"/>
<path d="M899.6 604.5L908.9 604.5" stroke="#000" stroke-width="2.00"/>
<path d="M899.6 516.6L908.9 516.6" stroke="#000" stroke-width="2.00"/>
<path d="M899.6 428.6L908.9 428.6" stroke="#000" stroke-width="2.00"/>
<path d="M899.6 340.7L908.9 340.7" stroke="#000" stroke-width="2.00"/>
<path d="M899.6 252.7L908.9 252.7" stroke="#000" stroke-width="2.00"/>
<path d="M899.6 164.7L908.9 164.7" stroke="#000" stroke-width="2.00"/>
<path d="M899.6 76.8L908.9 76.8" stroke="#000" stroke-width="2.00"/><g font-family="DejaVu Sans, Liberation Sans, sans-serif" fill="#000"><text x="88.4" y="730.3" text-anchor="middle" font-size="25.70">−2</text>
<text x="186.0" y="730.3" text-anchor="middle" font-size="25.70">−1</text>
<text x="283.7" y="730.3" text-anchor="middle" font-size="25.70">0</text>
<text x="381.3" y="730.3" text-anchor="middle" font-size="25.70">1</text>
<text x="478.9" y="730.3" text-anchor="middle" font-size="25.70">2</text>
<text x="576.5" y="730.3" text-anchor="middle" font-size="25.70">3</text>
<text x="674.2" y="730.3" text-anchor="middle" font-size="25.70">4</text>
<text x="771.8" y="730.3" text-anchor="middle" font-size="25.70">5</text>
<text x="70.4" y="703.4" text-anchor="end" font-size="25.70">0</text>
<text x="70.4" y="567.1" text-anchor="end" font-size="25.70">10</text>
<text x="70.4" y="430.7" text-anchor="end" font-size="25.70">20</text>
<text x="70.4" y="294.4" text-anchor="end" font-size="25.70">30</text>
<text x="70.4" y="158.0" text-anchor="end" font-size="25.70">40</text>
<text x="70.4" y="21.7" text-anchor="end" font-size="25.70">50</text>
<text x="454.5" y="764.9" text-anchor="middle" font-size="26.00">log (tf-t) [yrs]</text>
<text transform="translate(22.3,351.5) rotate(-90)" text-anchor="middle" font-size="26.00">Mass (M<tspan font-size="18.20" dy="4.5" dx="3.5">⊙</tspan><tspan dy="-4.5" dx="3.5">)</tspan></text>
<text x="918.1" y="703.4" text-anchor="start" font-size="25.70">0.0</text>
<text x="918.1" y="615.4" text-anchor="start" font-size="25.70">0.8</text>
<text x="918.1" y="527.5" text-anchor="start" font-size="25.70">1.6</text>
<text x="918.1" y="439.5" text-anchor="start" font-size="25.70">2.4</text>
<text x="918.1" y="351.6" text-anchor="start" font-size="25.70">3.2</text>
<text x="918.1" y="263.6" text-anchor="start" font-size="25.70">4.0</text>
<text x="918.1" y="175.6" text-anchor="start" font-size="25.70">4.8</text>
<text x="918.1" y="87.7" text-anchor="start" font-size="25.70">5.6</text>
<text transform="translate(993,351.5) rotate(-90)" text-anchor="middle" font-size="26.00">log (<tspan font-style="italic">ε</tspan>) [erg/cm<tspan font-size="18.20" dy="-9">3</tspan><tspan dy="9">/s]</tspan></text></g></svg></body></html>
